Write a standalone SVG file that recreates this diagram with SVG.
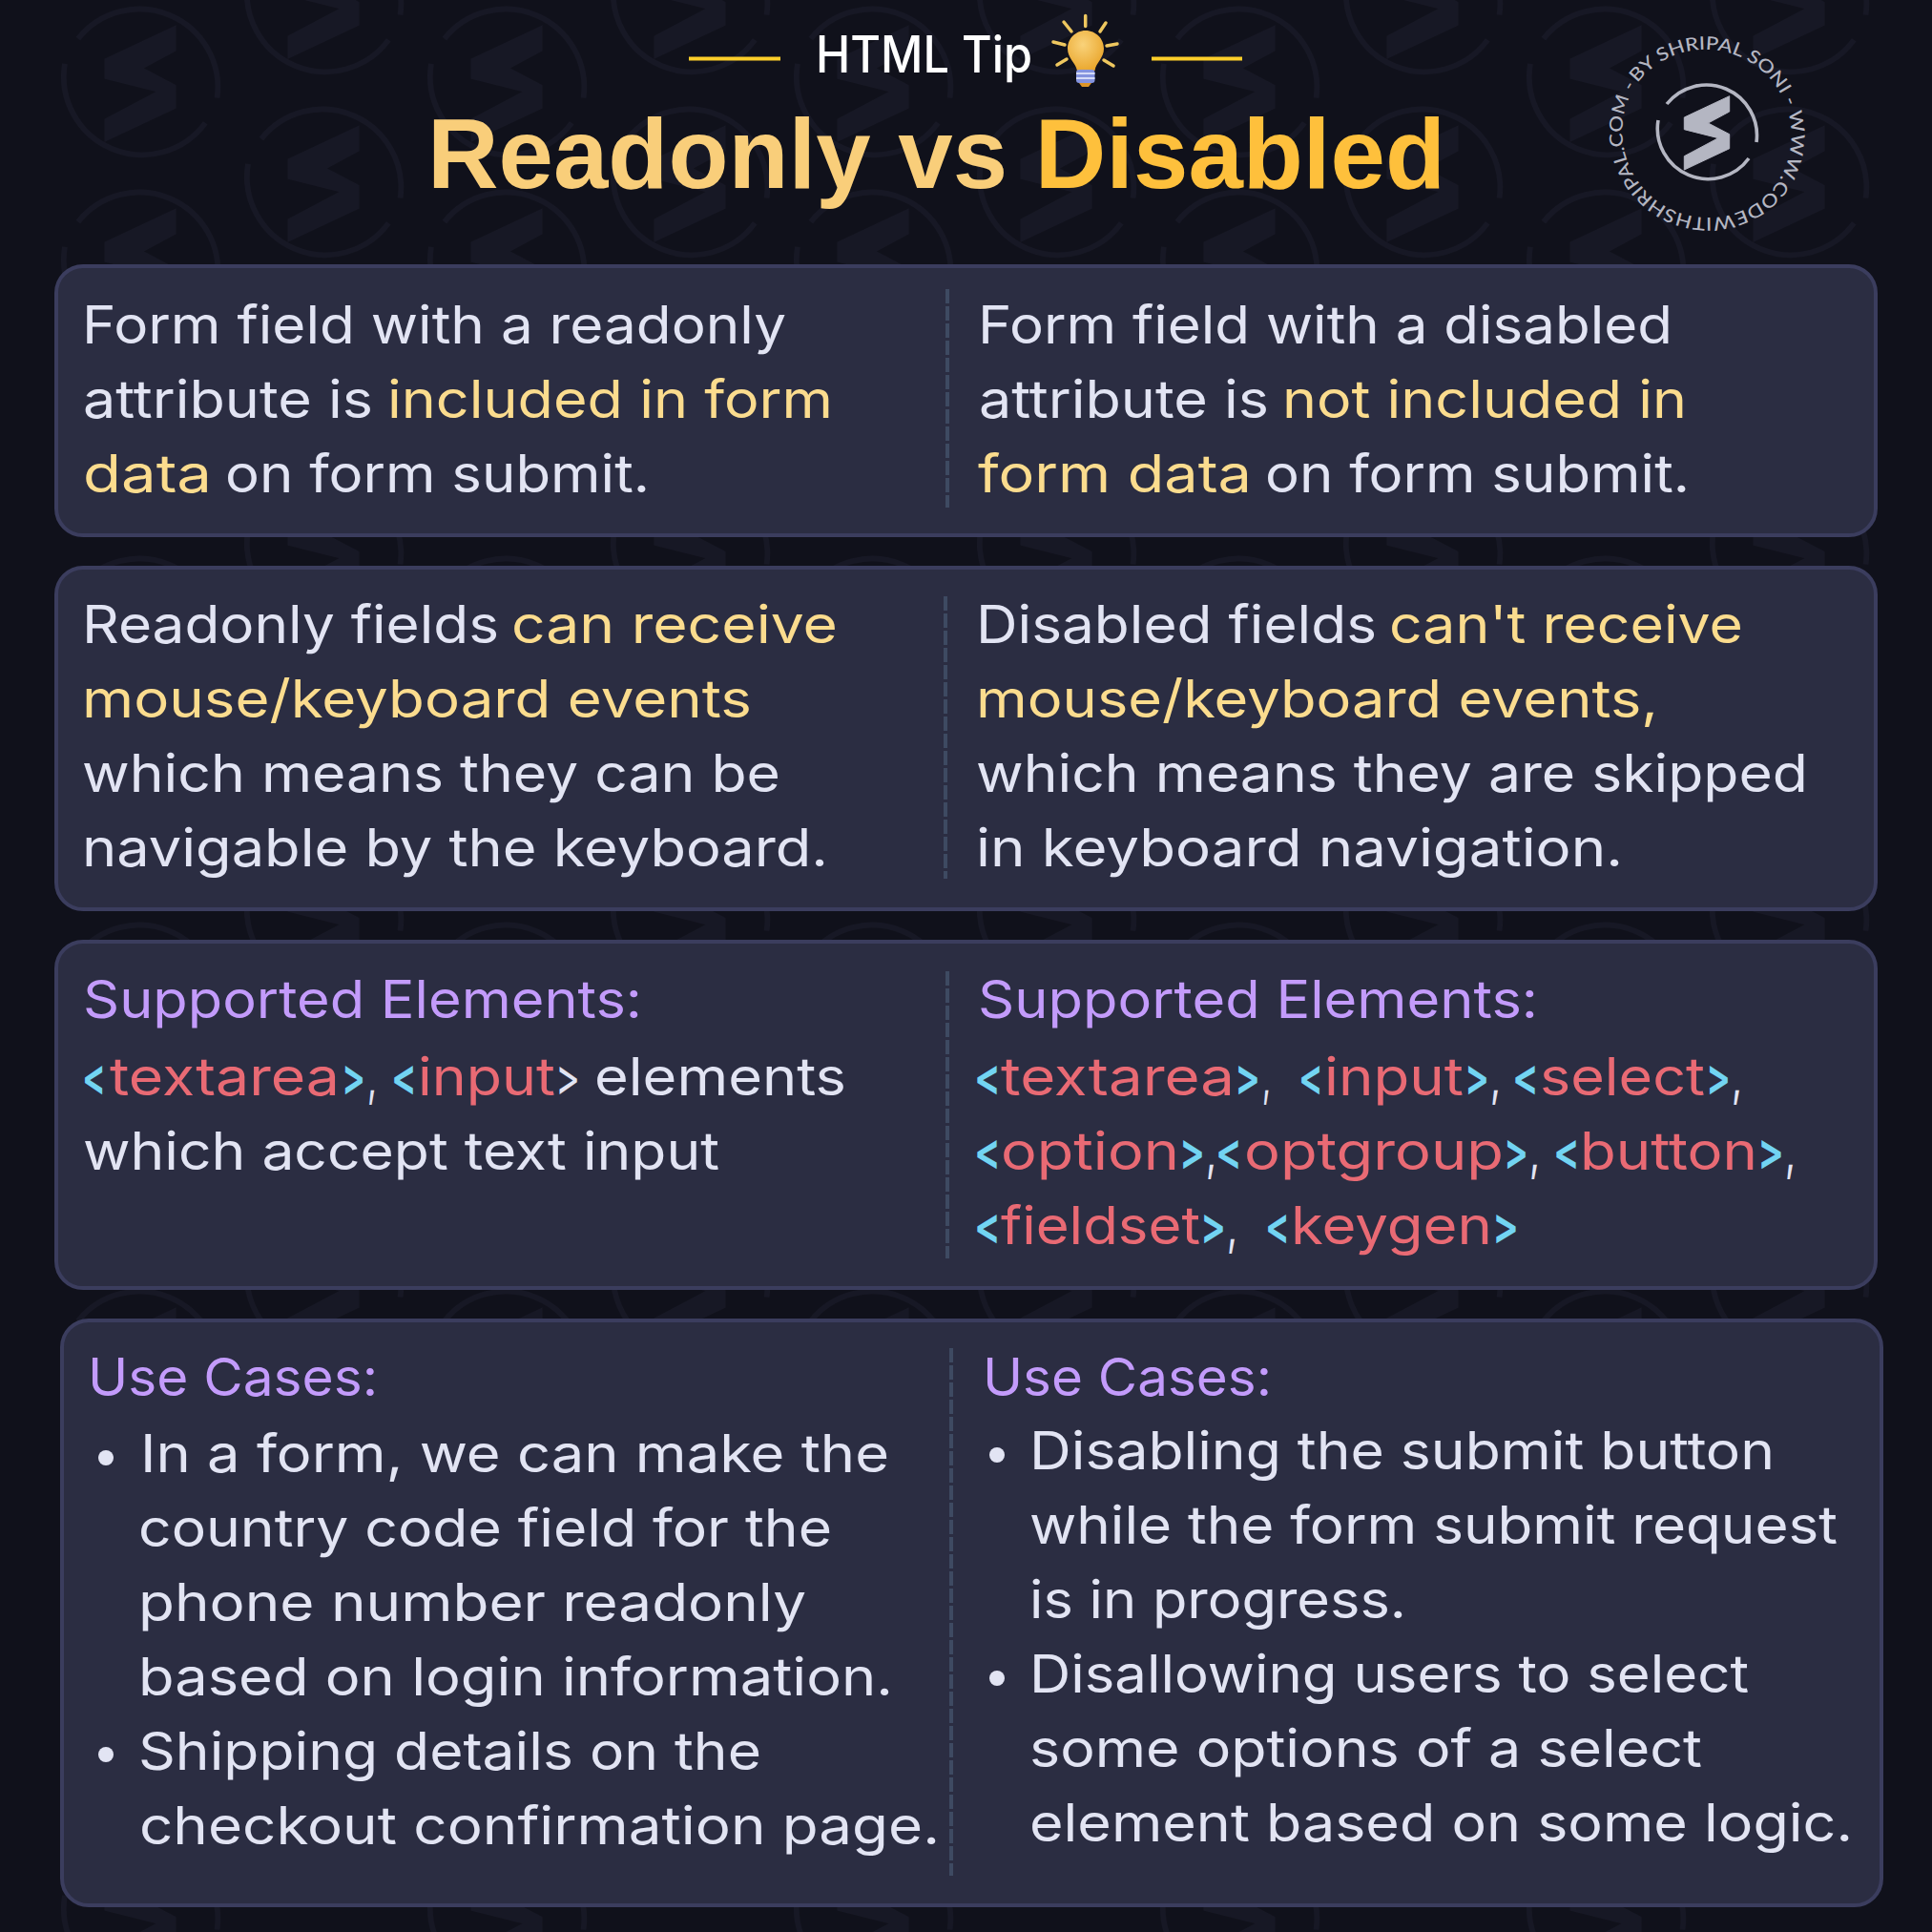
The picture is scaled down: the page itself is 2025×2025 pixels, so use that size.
<svg xmlns="http://www.w3.org/2000/svg" xmlns:xlink="http://www.w3.org/1999/xlink" width="2025" height="2025" viewBox="0 0 2025 2025">
<style>
text{font-family:"Inter","Noto Sans",sans-serif;font-size:55px;fill:#e2e4f3;font-weight:420}
.y{fill:#fbdc8e}.c{fill:#72d4f2;font-weight:600}.r{fill:#e96a74}.p{fill:#c39bfb}.w{fill:#e2e4f3}
.panel{fill:#2b2d42;stroke:#3b3d5e;stroke-width:4}
.div{stroke:#3e4a62;stroke-width:4;stroke-dasharray:15 3;fill:none}
.bul{fill:#e2e4f3}
.ray{stroke:#eec75f;stroke-width:3.5;stroke-linecap:round}
.stamp{font-size:19px;fill:#b4b6c2;font-family:"Lato","Noto Sans",sans-serif;font-weight:500}
</style>
<defs>
<g id="logo">
<path d="M23.7-38.3V-22L1.3-10 23.7 1.7V16.7L-23.7 39V24.7L12 5.7-23.7-3.3V-16Z"/>
<path d="M-42-30A53 53 0 0 1 52 10M44 27A53 53 0 0 1-51-13" fill="none" stroke-width="3.6"/>
</g>
<pattern id="wm" x="0" y="0" width="384" height="192" patternUnits="userSpaceOnUse">
<g fill="#171825" stroke="#171825">
<g transform="translate(147 87) scale(1.55)"><use href="#logo"/></g>
<g transform="translate(339 0) scale(1.55)"><use href="#logo"/></g>
<g transform="translate(339 192) scale(1.55)"><use href="#logo"/></g>
<g transform="translate(-45 0) scale(1.55)"><use href="#logo"/></g>
<g transform="translate(-45 192) scale(1.55)"><use href="#logo"/></g>
</g>
</pattern>
<radialGradient id="glass" cx="42%" cy="35%" r="70%"><stop offset="0" stop-color="#f9d27a"/><stop offset="1" stop-color="#e9a52a"/></radialGradient>
<filter id="glow" x="-10%" y="-600%" width="120%" height="1300%"><feGaussianBlur stdDeviation="2.5"/></filter>
</defs>
<rect width="2025" height="2025" fill="#10111b"/>
<rect id="watermark" x="60" width="1905" height="2025" fill="url(#wm)"/>

<g id="header">
<path d="M721 61.5H819M1206 61.5H1303" stroke="#ffc400" stroke-width="8" opacity=".7" filter="url(#glow)"/>
<path d="M722 61.5H818M1207 61.5H1302" stroke="#ffcf2a" stroke-width="4"/>
<text x="855" y="76" textLength="227" lengthAdjust="spacingAndGlyphs" style="font-size:53px;fill:#fff;font-weight:550">HTML Tip</text>
<g id="bulb">
<path class="ray" d="M1137.7 16.5V27.5M1159 24L1153 33M1171 46L1160 48M1167 69L1157 63M1108 68L1118 62M1104 44L1116 47M1115 23L1123 33"/>
<path d="M1137.7 32C1149 32 1157 41 1157 51C1157 61 1149 65 1147.500 74H1129C1127 65 1119 61 1119 51C1119 41 1127 32 1137.7 32Z" fill="url(#glass)"/>
<rect x="1128" y="73" width="19.500" height="14" rx="3" fill="#8493de"/>
<path d="M1128 77H1147.500M1128 82H1147.500" stroke="#d5dbf8" stroke-width="2.200"/>
<path d="M1131 87H1144L1141 91H1134Z" fill="#dc9426"/>
</g>
<text x="448" y="197" textLength="1067" lengthAdjust="spacingAndGlyphs" style="font-family:'Liberation Sans',Arial,sans-serif;font-weight:700;font-size:104px;fill:#f9ce7a">Readonly vs <tspan style="fill:#fec03c">Disabled</tspan></text>
</g>

<g id="stamp">
<use href="#logo" x="1789" y="139" fill="#b4b6c2" stroke="#b4b6c2"/>
<path id="ring" d="M1716.300 87A90 90 0 0 1 1861.700 193A90 90 0 0 1 1716.300 87" fill="none"/>
<text class="stamp"><textPath href="#ring" textLength="552" lengthAdjust="spacingAndGlyphs">BY SHRIPAL SONI  -  WWW.CODEWITHSHRIPAL.COM  -</textPath></text>
</g>

<g id="panel-1">
<rect class="panel" x="59" y="279" width="1907" height="282" rx="28"/>
<path class="div" d="M993 303V532"/>
<text x="86" y="360" textLength="738" lengthAdjust="spacingAndGlyphs">Form field with a readonly</text>
<text x="87" y="438" textLength="304" lengthAdjust="spacingAndGlyphs">attribute is</text>
<text class="y" x="406" y="438" textLength="467" lengthAdjust="spacingAndGlyphs">included in form</text>
<text class="y" x="87" y="516" textLength="135" lengthAdjust="spacingAndGlyphs">data</text>
<text x="236" y="516" textLength="445" lengthAdjust="spacingAndGlyphs">on form submit.</text>
<text x="1025" y="360" textLength="728" lengthAdjust="spacingAndGlyphs">Form field with a disabled</text>
<text x="1026" y="438" textLength="304" lengthAdjust="spacingAndGlyphs">attribute is</text>
<text class="y" x="1344" y="438" textLength="424" lengthAdjust="spacingAndGlyphs">not included in</text>
<text class="y" x="1025" y="516" textLength="287" lengthAdjust="spacingAndGlyphs">form data</text>
<text x="1326" y="516" textLength="445" lengthAdjust="spacingAndGlyphs">on form submit.</text>
</g>

<g id="panel-2">
<rect class="panel" x="59" y="595" width="1907" height="358" rx="28"/>
<path class="div" d="M991 625V921"/>
<text x="86" y="674" textLength="437" lengthAdjust="spacingAndGlyphs">Readonly fields</text>
<text class="y" x="536" y="674" textLength="342" lengthAdjust="spacingAndGlyphs">can receive</text>
<text class="y" x="86" y="752" textLength="702" lengthAdjust="spacingAndGlyphs">mouse/keyboard events</text>
<text x="86" y="830" textLength="732" lengthAdjust="spacingAndGlyphs">which means they can be</text>
<text x="86" y="908" textLength="782" lengthAdjust="spacingAndGlyphs">navigable by the keyboard.</text>
<text x="1023" y="674" textLength="420" lengthAdjust="spacingAndGlyphs">Disabled fields</text>
<text class="y" x="1456" y="674" textLength="371" lengthAdjust="spacingAndGlyphs">can't receive</text>
<text class="y" x="1023" y="752" textLength="715" lengthAdjust="spacingAndGlyphs">mouse/keyboard events,</text>
<text x="1023" y="830" textLength="872" lengthAdjust="spacingAndGlyphs">which means they are skipped</text>
<text x="1023" y="908" textLength="678" lengthAdjust="spacingAndGlyphs">in keyboard navigation.</text>
</g>

<g id="panel-3">
<rect class="panel" x="59" y="987" width="1907" height="363" rx="28"/>
<path class="div" d="M993 1018V1319"/>
<text class="p" x="87" y="1067" textLength="586" lengthAdjust="spacingAndGlyphs">Supported Elements:</text>
<text y="1148"><tspan class="c" x="86" textLength="25" lengthAdjust="spacingAndGlyphs">&lt;</tspan><tspan class="r" x="115" textLength="241" lengthAdjust="spacingAndGlyphs">textarea</tspan><tspan class="c" x="358" textLength="25" lengthAdjust="spacingAndGlyphs">&gt;</tspan><tspan class="w" x="385" textLength="10" lengthAdjust="spacingAndGlyphs">,</tspan><tspan class="c" x="410" textLength="27" lengthAdjust="spacingAndGlyphs">&lt;</tspan><tspan class="r" x="438" textLength="144" lengthAdjust="spacingAndGlyphs">input</tspan><tspan class="w" x="582" textLength="26" lengthAdjust="spacingAndGlyphs">&gt;</tspan><tspan class="w" x="623" textLength="264" lengthAdjust="spacingAndGlyphs">elements</tspan></text>
<text x="87" y="1226" textLength="667" lengthAdjust="spacingAndGlyphs">which accept text input</text>

<text class="p" x="1025" y="1067" textLength="587" lengthAdjust="spacingAndGlyphs">Supported Elements:</text>
<text y="1148"><tspan class="c" x="1021" textLength="28" lengthAdjust="spacingAndGlyphs">&lt;</tspan><tspan class="r" x="1049" textLength="245" lengthAdjust="spacingAndGlyphs">textarea</tspan><tspan class="c" x="1294" textLength="27" lengthAdjust="spacingAndGlyphs">&gt;</tspan><tspan class="w" x="1323" textLength="9" lengthAdjust="spacingAndGlyphs">,</tspan><tspan class="c" x="1361" textLength="26" lengthAdjust="spacingAndGlyphs">&lt;</tspan><tspan class="r" x="1388" textLength="146" lengthAdjust="spacingAndGlyphs">input</tspan><tspan class="c" x="1535" textLength="26" lengthAdjust="spacingAndGlyphs">&gt;</tspan><tspan class="w" x="1562" textLength="11" lengthAdjust="spacingAndGlyphs">,</tspan><tspan class="c" x="1585" textLength="28" lengthAdjust="spacingAndGlyphs">&lt;</tspan><tspan class="r" x="1614" textLength="173" lengthAdjust="spacingAndGlyphs">select</tspan><tspan class="c" x="1788" textLength="26" lengthAdjust="spacingAndGlyphs">&gt;</tspan><tspan class="w" x="1815" textLength="11" lengthAdjust="spacingAndGlyphs">,</tspan></text>
<text y="1226"><tspan class="c" x="1021" textLength="28" lengthAdjust="spacingAndGlyphs">&lt;</tspan><tspan class="r" x="1049" textLength="187" lengthAdjust="spacingAndGlyphs">option</tspan><tspan class="c" x="1236" textLength="27" lengthAdjust="spacingAndGlyphs">&gt;</tspan><tspan class="w" x="1264" textLength="11" lengthAdjust="spacingAndGlyphs">,</tspan><tspan class="c" x="1274" textLength="28" lengthAdjust="spacingAndGlyphs">&lt;</tspan><tspan class="r" x="1304" textLength="272" lengthAdjust="spacingAndGlyphs">optgroup</tspan><tspan class="c" x="1576" textLength="26" lengthAdjust="spacingAndGlyphs">&gt;</tspan><tspan class="w" x="1603" textLength="11" lengthAdjust="spacingAndGlyphs">,</tspan><tspan class="c" x="1628" textLength="28" lengthAdjust="spacingAndGlyphs">&lt;</tspan><tspan class="r" x="1656" textLength="186" lengthAdjust="spacingAndGlyphs">button</tspan><tspan class="c" x="1842" textLength="28" lengthAdjust="spacingAndGlyphs">&gt;</tspan><tspan class="w" x="1871" textLength="11" lengthAdjust="spacingAndGlyphs">,</tspan></text>
<text y="1304"><tspan class="c" x="1021" textLength="28" lengthAdjust="spacingAndGlyphs">&lt;</tspan><tspan class="r" x="1049" textLength="209" lengthAdjust="spacingAndGlyphs">fieldset</tspan><tspan class="c" x="1258" textLength="27" lengthAdjust="spacingAndGlyphs">&gt;</tspan><tspan class="w" x="1286" textLength="11" lengthAdjust="spacingAndGlyphs">,</tspan><tspan class="c" x="1326" textLength="26" lengthAdjust="spacingAndGlyphs">&lt;</tspan><tspan class="r" x="1353" textLength="211" lengthAdjust="spacingAndGlyphs">keygen</tspan><tspan class="c" x="1564" textLength="28" lengthAdjust="spacingAndGlyphs">&gt;</tspan></text>
</g>

<g id="panel-4">
<rect class="panel" x="65" y="1384" width="1907" height="613" rx="28"/>
<path class="div" d="M997 1413V1966"/>
<text class="p" x="92" y="1463" textLength="304" lengthAdjust="spacingAndGlyphs">Use Cases:</text>
<circle class="bul" cx="111" cy="1528" r="8"/><circle class="bul" cx="111" cy="1839" r="8"/>
<text x="147" y="1543" textLength="785" lengthAdjust="spacingAndGlyphs">In a form, we can make the</text>
<text x="145" y="1621" textLength="727" lengthAdjust="spacingAndGlyphs">country code field for the</text>
<text x="145" y="1699" textLength="700" lengthAdjust="spacingAndGlyphs">phone number readonly</text>
<text x="145" y="1777" textLength="791" lengthAdjust="spacingAndGlyphs">based on login information.</text>
<text x="145" y="1855" textLength="653" lengthAdjust="spacingAndGlyphs">Shipping details on the</text>
<text x="146" y="1933" textLength="839" lengthAdjust="spacingAndGlyphs">checkout confirmation page.</text>
<text class="p" x="1030" y="1463" textLength="303" lengthAdjust="spacingAndGlyphs">Use Cases:</text>
<circle class="bul" cx="1045" cy="1525" r="8"/><circle class="bul" cx="1045" cy="1759" r="8"/>
<text x="1079" y="1540" textLength="781" lengthAdjust="spacingAndGlyphs">Disabling the submit button</text>
<text x="1079" y="1618" textLength="847" lengthAdjust="spacingAndGlyphs">while the form submit request</text>
<text x="1079" y="1696" textLength="395" lengthAdjust="spacingAndGlyphs">is in progress.</text>
<text x="1079" y="1774" textLength="754" lengthAdjust="spacingAndGlyphs">Disallowing users to select</text>
<text x="1079" y="1852" textLength="705" lengthAdjust="spacingAndGlyphs">some options of a select</text>
<text x="1079" y="1930" textLength="863" lengthAdjust="spacingAndGlyphs">element based on some logic.</text>
</g>
</svg>
